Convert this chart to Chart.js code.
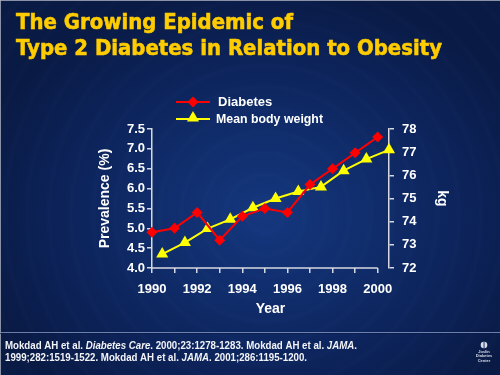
<!DOCTYPE html>
<html>
<head>
<meta charset="utf-8">
<script src="https://cdn.jsdelivr.net/npm/chart.js@4.4.1/dist/chart.umd.min.js"></script>
<style>
  html, body { margin: 0; padding: 0; }
  body {
    width: 500px;
    height: 375px;
    overflow: hidden;
    background:
      repeating-radial-gradient(circle at 265px 215px, rgba(255,255,255,0) 0px, rgba(255,255,255,0) 14px, rgba(120,160,230,0.02) 18px, rgba(255,255,255,0) 22px),
      radial-gradient(ellipse 300px 230px at 265px 215px, #15377f 0%, #102d6c 35%, #0c2258 70%, #091a44 100%),
      #081637;
  }
  #wrap { position: relative; width: 500px; height: 375px; }
  canvas { position: absolute; left: 0; top: 0; }
</style>
</head>
<body>
<div id="wrap"><canvas id="chart" width="500" height="375"></canvas></div>
<script>
const years = [1990, 1991, 1992, 1993, 1994, 1995, 1996, 1997, 1998, 1999, 2000];
const diabetes = [4.9, 5.0, 5.4, 4.7, 5.3, 5.5, 5.4, 6.1, 6.5, 6.9, 7.3];
const bodyWeight = [72.6, 73.1, 73.7, 74.1, 74.6, 75.0, 75.3, 75.5, 76.2, 76.7, 77.1];
const seriesNames = ["Diabetes", "Mean body weight"];
const titleLines = ["The Growing Epidemic of", "Type 2 Diabetes in Relation to Obesity"];
const footLines = [
    [["Mokdad AH et al. ", false], ["Diabetes Care", true], [". 2000;23:1278-1283. Mokdad AH et al. ", false], ["JAMA", true], [".", false]],
    [["1999;282:1519-1522. Mokdad AH et al. ", false], ["JAMA", true], [". 2001;286:1195-1200.", false]],
];
const logoLines = ["Joslin", "Diabetes", "Center"];

const RED = "#ff0000";
const YELLOW = "#ffff00";
const AXIS = "#d6d9e2";
const SANS = "'Liberation Sans', Arial, sans-serif";

function drawDiamond(ctx, x, y, r, color) {
    ctx.fillStyle = color;
    ctx.beginPath();
    ctx.moveTo(x, y - r);
    ctx.lineTo(x + r, y);
    ctx.lineTo(x, y + r);
    ctx.lineTo(x - r, y);
    ctx.closePath();
    ctx.fill();
}

function drawTriangle(ctx, x, y, r, color) {
    ctx.fillStyle = color;
    ctx.beginPath();
    ctx.moveTo(x, y - r);
    ctx.lineTo(x + r * 0.866, y + r / 2);
    ctx.lineTo(x - r * 0.866, y + r / 2);
    ctx.closePath();
    ctx.fill();
}

// slide decoration: title, legend, x axis line, footnote, logo
const slidePlugin = {
    id: "slide",
    beforeDraw(chart) {
        const ctx = chart.ctx;
        ctx.save();
        // borders
        ctx.fillStyle = "rgba(170,175,190,0.8)";
        ctx.fillRect(0, 0, 500, 1);
        ctx.fillRect(0, 0, 1, 375);
        ctx.fillStyle = "rgba(140,160,200,0.75)";
        ctx.fillRect(0, 332, 500, 1);
        ctx.fillStyle = "rgba(10,25,70,0.6)";
        ctx.fillRect(0, 333, 500, 1);
        ctx.restore();
    },
    afterDraw(chart) {
        const ctx = chart.ctx;
        const x = chart.scales.x;
        const bottom = chart.chartArea.bottom;
        ctx.save();

        // x axis line, 1990 to 2000 only
        ctx.strokeStyle = AXIS;
        ctx.lineWidth = 1.5;
        ctx.beginPath();
        ctx.moveTo(x.getPixelForValue(years[0]), bottom);
        ctx.lineTo(x.getPixelForValue(years[years.length - 1]), bottom);
        ctx.stroke();

        // title
        ctx.fillStyle = "#ffcc00";
        ctx.font = "bold 22px 'DejaVu Sans', Verdana, sans-serif";
        ctx.textBaseline = "alphabetic";
        const sx = 426 / ctx.measureText(titleLines[1]).width;
        ctx.save();
        ctx.translate(16, 0);
        ctx.scale(sx, 1);
        ctx.strokeStyle = "#ffcc00";
        ctx.lineWidth = 0.6;
        titleLines.forEach((t, i) => {
            ctx.fillText(t, 0, 29 + i * 26);
            ctx.strokeText(t, 0, 29 + i * 26);
        });
        ctx.restore();

        // legend
        const legendY = [102, 119];
        ctx.lineWidth = 2;
        ctx.strokeStyle = RED;
        ctx.beginPath();
        ctx.moveTo(176, legendY[0]);
        ctx.lineTo(210, legendY[0]);
        ctx.stroke();
        drawDiamond(ctx, 193, legendY[0], 5.5, RED);
        ctx.strokeStyle = YELLOW;
        ctx.beginPath();
        ctx.moveTo(176, legendY[1]);
        ctx.lineTo(210, legendY[1]);
        ctx.stroke();
        drawTriangle(ctx, 193, legendY[1] - 1, 7, YELLOW);
        ctx.fillStyle = "#ffffff";
        ctx.font = "bold 13px " + SANS;
        ctx.textBaseline = "middle";
        ctx.fillText(seriesNames[0], 218, legendY[0]);
        ctx.fillText(seriesNames[1], 216, legendY[1], 107);

        // footnote
        ctx.textBaseline = "alphabetic";
        const fontFor = (it) => (it ? "italic bold 10px " : "bold 10px ") + SANS;
        let w0 = 0;
        footLines[0].forEach(([t, it]) => {
            ctx.font = fontFor(it);
            w0 += ctx.measureText(t).width;
        });
        const fs = 352 / w0;
        const footY = [349, 361];
        footLines.forEach((line, i) => {
            ctx.save();
            ctx.translate(5, footY[i]);
            ctx.scale(fs, 1);
            let cx = 0;
            line.forEach(([t, it]) => {
                ctx.font = fontFor(it);
                ctx.fillStyle = "#f2f4f8";
                ctx.fillText(t, cx, 0);
                cx += ctx.measureText(t).width;
            });
            ctx.restore();
        });

        // logo
        ctx.fillStyle = "#d8dce6";
        ctx.beginPath();
        ctx.arc(484, 345, 3.3, 0, Math.PI * 2);
        ctx.fill();
        ctx.fillStyle = "#0c2260";
        ctx.fillRect(483.6, 342, 0.9, 6);
        ctx.fillStyle = "#d8dce6";
        ctx.font = "bold 4px " + SANS;
        ctx.textAlign = "center";
        logoLines.forEach((t, i) => ctx.fillText(t, 484, 353 + i * 4.3));
        ctx.restore();
    },
};

const tickFont = { family: SANS, size: 13, weight: "bold" };
const titleFont = { family: SANS, size: 14, weight: "bold" };

new Chart(document.getElementById("chart"), {
    type: "line",
    data: {
        datasets: [
            {
                label: seriesNames[0],
                data: years.map((yr, i) => ({ x: yr, y: diabetes[i] })),
                xAxisID: "x",
                yAxisID: "y",
                borderColor: RED,
                backgroundColor: RED,
                borderWidth: 2,
                pointStyle: "rectRot",
                pointRadius: 5.5,
                pointBorderWidth: 0,
                tension: 0,
                clip: false,
            },
            {
                label: seriesNames[1],
                data: years.map((yr, i) => ({ x: yr, y: bodyWeight[i] })),
                xAxisID: "x2",
                yAxisID: "y2",
                borderColor: YELLOW,
                backgroundColor: YELLOW,
                borderWidth: 2,
                pointStyle: "triangle",
                pointRadius: 7,
                pointBorderWidth: 0,
                tension: 0,
                clip: false,
            },
        ],
    },
    options: {
        responsive: false,
        animation: false,
        events: [],
        layout: { padding: { left: 97, right: 50, top: 129, bottom: 57 } },
        plugins: {
            legend: { display: false },
            tooltip: { enabled: false },
        },
        scales: {
            x: {
                type: "linear",
                position: "bottom",
                min: 1990,
                max: 2000.5,
                afterFit: (s) => { s.height = 50; },
                border: { display: false },
                grid: { drawOnChartArea: false, drawTicks: true, tickLength: 5, color: AXIS, lineWidth: 1.5 },
                ticks: {
                    stepSize: 1,
                    includeBounds: false,
                    color: "#ffffff",
                    font: tickFont,
                    padding: 9,
                    maxRotation: 0,
                    autoSkip: false,
                    callback: (v) => (v % 2 === 0 ? String(v) : ""),
                },
                title: { display: true, text: "Year", color: "#ffffff", font: titleFont, padding: 0 },
            },
            x2: {
                type: "linear",
                display: false,
                min: 1989.55,
                max: 2000,
            },
            y: {
                position: "left",
                min: 4,
                max: 7.5,
                afterFit: (s) => { s.width = 55; },
                border: { display: true, color: AXIS, width: 1.5 },
                grid: { drawOnChartArea: false, drawTicks: true, tickLength: 5, color: AXIS, lineWidth: 1.5 },
                ticks: {
                    stepSize: 0.5,
                    color: "#ffffff",
                    font: tickFont,
                    padding: 2,
                    callback: (v) => v.toFixed(1),
                },
                title: { display: true, text: "Prevalence (%)", color: "#ffffff", font: titleFont, padding: 0 },
            },
            y2: {
                position: "right",
                min: 72,
                max: 78,
                afterFit: (s) => { s.width = 61; },
                border: { display: true, color: AXIS, width: 1.5 },
                grid: { drawOnChartArea: false, drawTicks: true, tickLength: 5, color: AXIS, lineWidth: 1.5 },
                ticks: {
                    stepSize: 1,
                    color: "#ffffff",
                    font: tickFont,
                    padding: 8,
                },
                title: { display: true, text: "kg", color: "#ffffff", font: titleFont, padding: 0 },
            },
        },
    },
    plugins: [slidePlugin],
});
</script>
</body>
</html>
